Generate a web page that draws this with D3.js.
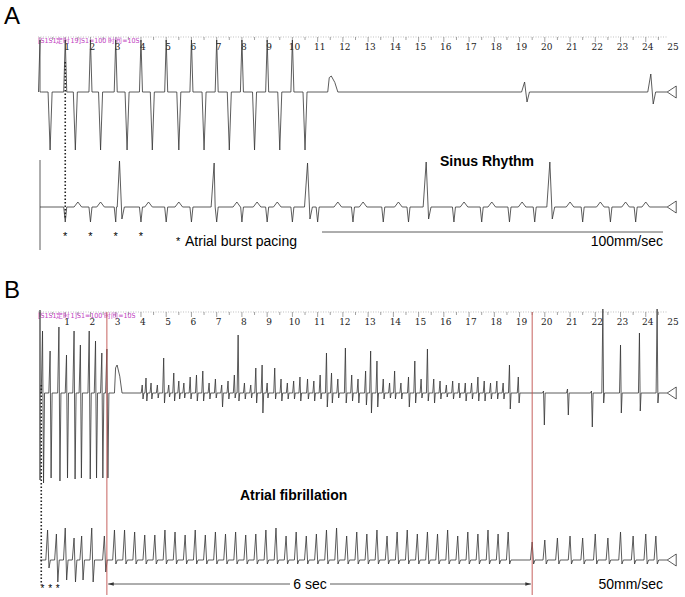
<!DOCTYPE html>
<html><head><meta charset="utf-8">
<script src="https://cdn.jsdelivr.net/npm/d3@7"></script>
<style>body{margin:0;background:#fff}</style>
</head><body>
<div id="chart"></div>
<script>
// ruler numbers
var rulerNums = d3.range(1, 26);
var labelA = "[S1S1定时19]S1=100 时间=10S";
var labelB = "[S1S1定时1]S1=100 时间=10S";

// events: [time, up, down]  (time on ruler units, amplitudes in px)
var a1Pace = [0,1,2,3,4,5,6,7,8,9,10];
var a1Qrs = [0.4,1.4,2.4,3.45,4.45,5.5,6.5,7.5,8.5,9.5,10.5];
var a1Events = [[19.2,10,-10],[24.2,18,-12]];
var a1Bump = [[11.6,16]];
var a2Beats = [[3.15,46,-12],[6.9,44,-14],[10.6,44,-12],[15.3,45,-12],[20.2,45,-12]];
var a2Dips = [1,2,3,4,5,6,7,8,9,10,11,12.4,13.6,14.6,16.4,17.5,18.6,19.6,21.5,22.6,23.6];
var a2Waves = [1.5,2.4,4.3,5.5,7.8,8.6,9.4,11.8,12.8,14.2,16.8,17.9,19.1,21,22.2,23.2,24];

var b1Pace = [[0.1,62,-90],[0.4,42,-85],[0.75,66,-88],[1.05,38,-85],[1.35,62,-86],[1.6,48,-85],[1.95,62,-86],[2.2,52,-85],[2.45,40,-85],[2.65,44,-85]];
var b1Bump = [[3.1,28]];
var b1Fib = [[4.05,8,-6],[4.2,15,-8],[4.4,10,-6],[4.65,8,-5],[4.9,35,-10],[5.1,8,-4],[5.3,20,-8],[5.5,12,-6],[5.7,10,-5],[5.95,16,-6],
  [6.2,18,-8],[6.45,22,-8],[6.7,10,-6],[6.95,14,-5],[7.2,8,-14],[7.45,12,-6],[7.7,18,-5],[7.85,58,-8],[8.1,10,-6],[8.35,8,-5],
  [8.55,25,-10],[8.8,28,-20],[9.0,10,-5],[9.3,25,-6],[9.55,14,-8],[9.8,10,-6],[10.05,12,-6],[10.3,16,-8],[10.6,14,-6],[10.85,12,-8],
  [11.1,18,-6],[11.35,40,-14],[11.55,20,-10],[11.8,14,-5],[12.1,45,-10],[12.35,18,-8],[12.6,14,-10],[12.9,22,-12],[13.1,42,-20],[13.35,32,-14],
  [13.6,14,-6],[13.85,10,-5],[14.05,22,-6],[14.3,10,-6],[14.6,16,-14],[14.85,32,-10],[15.1,14,-5],[15.35,44,-8],[15.6,14,-10],[15.85,12,-6],
  [16.1,8,-4],[16.35,12,-6],[16.6,10,-5],[16.85,10,-8],[17.1,10,-6],[17.35,16,-8],[17.6,12,-8],[17.85,10,-6],[18.1,12,-6],[18.35,10,-6],
  [18.6,28,-16],[18.95,16,-10]];
var b1Tail = [[19.95,2,-32],[20.9,4,-22],[21.85,2,-34],[22.3,84,-10],[23.0,48,-20],[23.75,60,-18],[24.45,84,-10]];
var b2Beats = [[0.3,30,-8],[0.65,26,-22],[1.0,32,-20],[1.35,22,-22],[1.65,24,-20],[2.05,32,-22],[2.55,24,-12],
  [2.95,30,-4],[3.35,30,-4],[3.75,28,-4],[4.15,25,-4],[4.55,25,-4],[4.95,30,-4],[5.35,28,-4],[5.75,25,-4],[6.15,30,-4],[6.55,25,-4],
  [6.95,28,-4],[7.35,26,-4],[7.75,28,-4],[8.15,25,-4],[8.55,26,-4],[8.95,30,-4],[9.35,32,-4],[9.75,24,-4],[10.15,28,-4],[10.55,24,-4],
  [10.95,26,-4],[11.35,30,-4],[11.75,32,-4],[12.15,24,-4],[12.55,28,-4],[12.95,26,-4],[13.35,30,-4],[13.75,24,-4],[14.15,28,-4],[14.55,30,-4],
  [14.95,26,-4],[15.35,28,-4],[15.75,26,-4],[16.15,30,-4],[16.55,24,-4],[16.95,28,-4],[17.35,26,-4],[17.75,30,-4],[18.15,26,-4],[18.55,28,-4],
  [19.5,18,-4],[20.0,20,-4],[20.5,22,-4],[21.0,24,-4],[21.5,22,-4],[22.0,26,-4],[22.5,22,-4],[23.0,28,-4],[23.5,24,-4],[24.0,26,-4],[24.4,24,-4]];

var W = 685, H = 597;
var svg = d3.select("#chart").append("svg").attr("width", W).attr("height", H);
var x = d3.scaleLinear().domain([0, 25]).range([40, 671]);

// build a path from spike events
function spikes(ev, w) {
  var pts = [];
  ev.forEach(function(e) {
    pts.push([e[0]-w, 0], [e[0], e[1]], [e[0]+w*0.8, e[2]], [e[0]+w*1.6, 0]);
  });
  return pts;
}
function single(ts, amp, w) {
  var pts = [];
  ts.forEach(function(t) { pts.push([t-w, 0], [t, amp], [t+w, 0]); });
  return pts;
}
function bumps(ev, w) {
  var pts = [];
  ev.forEach(function(e) {
    pts.push([e[0]-w, 0], [e[0]-w*0.7, e[1]*0.9], [e[0]-w*0.3, e[1]], [e[0]+w*0.4, e[1]*0.6], [e[0]+w, 0]);
  });
  return pts;
}
function drawTrace(pts, base, t0, t1) {
  pts = pts.slice();
  pts.push([t0, 0], [t1, 0]);
  pts.sort(function(a, b) { return a[0] - b[0]; });
  svg.append("path")
    .attr("fill", "none").attr("stroke", "#333").attr("stroke-width", 0.8)
    .attr("d", d3.line().x(function(d) { return x(d[0]); }).y(function(d) { return base - d[1]; })(pts));
  var ex = x(t1);
  svg.append("path").attr("fill", "#fff").attr("stroke", "#333").attr("stroke-width", 0.8)
    .attr("d", "M" + ex + "," + base + "L" + (ex+9) + "," + (base-6) + "L" + (ex+9) + "," + (base+6) + "Z");
}
function ruler(y, label) {
  svg.append("line").attr("x1", 38).attr("x2", 668).attr("y1", y).attr("y2", y)
    .attr("stroke", "#999").attr("stroke-width", 0.6).attr("stroke-dasharray", "1,1.5");
  svg.append("g").selectAll("line").data(d3.range(0, 25, 0.5)).join("line")
    .attr("x1", function(d) { return x(d); }).attr("x2", function(d) { return x(d); })
    .attr("y1", y).attr("y2", function(d) { return y + (d % 1 === 0 ? 5 : 3); })
    .attr("stroke", "#666").attr("stroke-width", 0.6);
  svg.append("g").selectAll("text").data(rulerNums).join("text")
    .attr("x", function(d) { return x(d) + 2; }).attr("y", y + 13)
    .attr("text-anchor", "middle").attr("font-family", "DejaVu Serif").attr("font-size", 9).attr("fill", "#222")
    .text(function(d) { return d; });
  svg.append("text").attr("x", 38).attr("y", y + 6).attr("font-family", "DejaVu Sans Condensed, DejaVu Sans")
    .attr("font-size", 7).attr("fill", "#c03cc0").text(label);
}
function txt(s, px, py, size, bold, anchor) {
  svg.append("text").attr("x", px).attr("y", py).attr("font-family", "Liberation Sans, Arial")
    .attr("font-size", size).attr("font-weight", bold ? "bold" : "normal")
    .attr("text-anchor", anchor || "start").text(s);
}

// ---------- Panel A ----------
txt("A", 4, 24, 24);
ruler(37, labelA);
drawTrace(single(a1Pace, 52, 0.06).concat(single(a1Qrs, -58, 0.08)).concat(spikes(a1Events, 0.12)).concat(bumps(a1Bump, 0.2)), 92, 0, 24.85);
var a2 = spikes(a2Beats, 0.12)
  .concat(a2Dips.map(function(t) { return [[t-0.06, 0], [t, -15], [t+0.06, 0]]; }).flat())
  .concat(a2Waves.map(function(t) { return [[t-0.15, 0], [t, 5], [t+0.15, 0]]; }).flat());
drawTrace(a2, 207, 0, 24.85);
svg.append("line").attr("x1", x(0)).attr("x2", x(0)).attr("y1", 160).attr("y2", 250).attr("stroke", "#333").attr("stroke-width", 0.8);
svg.append("line").attr("x1", x(1)).attr("x2", x(1)).attr("y1", 62).attr("y2", 218)
  .attr("stroke", "#222").attr("stroke-width", 1.6).attr("stroke-dasharray", "1.5,2");
svg.append("g").selectAll("text").data([1, 2, 3, 4]).join("text")
  .attr("x", function(d) { return x(d); }).attr("y", 240).attr("text-anchor", "middle")
  .attr("font-size", 11).attr("font-family", "Liberation Sans").text("*");
txt("*", 176, 245, 11);
txt("Atrial burst pacing", 185, 246, 14);
txt("Sinus Rhythm", 487, 166, 14, true, "middle");
svg.append("line").attr("x1", 322).attr("x2", 663).attr("y1", 232).attr("y2", 232).attr("stroke", "#333").attr("stroke-width", 0.8);
txt("100mm/sec", 663, 246, 14, false, "end");

// ---------- Panel B ----------
txt("B", 4, 298, 24);
ruler(312, labelB);
drawTrace(spikes(b1Pace, 0.05).concat(bumps(b1Bump, 0.15)).concat(spikes(b1Fib, 0.04)).concat(spikes(b1Tail, 0.04)), 393, 0, 24.85);
drawTrace(spikes(b2Beats, 0.07), 560, 0, 24.85);
svg.append("line").attr("x1", x(0)).attr("x2", x(0)).attr("y1", 310).attr("y2", 480).attr("stroke", "#333").attr("stroke-width", 1.2);
svg.append("line").attr("x1", x(0.05)).attr("x2", x(0.05)).attr("y1", 385).attr("y2", 585)
  .attr("stroke", "#222").attr("stroke-width", 1.6).attr("stroke-dasharray", "1.5,2");
[2.65, 19.5].forEach(function(t) {
  svg.append("line").attr("x1", x(t)).attr("x2", x(t)).attr("y1", 312).attr("y2", 595).attr("stroke", "#c0504d").attr("stroke-width", 0.9);
});
svg.append("g").selectAll("text").data([0.1, 0.4, 0.7]).join("text")
  .attr("x", function(d) { return x(d); }).attr("y", 592).attr("text-anchor", "middle")
  .attr("font-size", 10).attr("font-family", "Liberation Sans").text("*");
txt("Atrial fibrillation", 240, 500, 14, true);
var defs = svg.append("defs");
defs.append("marker").attr("id", "ah").attr("viewBox", "0 0 10 10").attr("refX", 10).attr("refY", 5)
  .attr("markerWidth", 7).attr("markerHeight", 7).attr("orient", "auto-start-reverse")
  .append("path").attr("d", "M0,2L10,5L0,8Z").attr("fill", "#333");
svg.append("line").attr("x1", x(2.7)).attr("x2", 290).attr("y1", 584).attr("y2", 584).attr("stroke", "#333").attr("stroke-width", 0.8).attr("marker-start", "url(#ah)");
svg.append("line").attr("x1", 330).attr("x2", x(19.45)).attr("y1", 584).attr("y2", 584).attr("stroke", "#333").attr("stroke-width", 0.8).attr("marker-end", "url(#ah)");
txt("6 sec", 310, 589, 14, false, "middle");
txt("50mm/sec", 663, 589, 14, false, "end");
</script>
</body></html>
